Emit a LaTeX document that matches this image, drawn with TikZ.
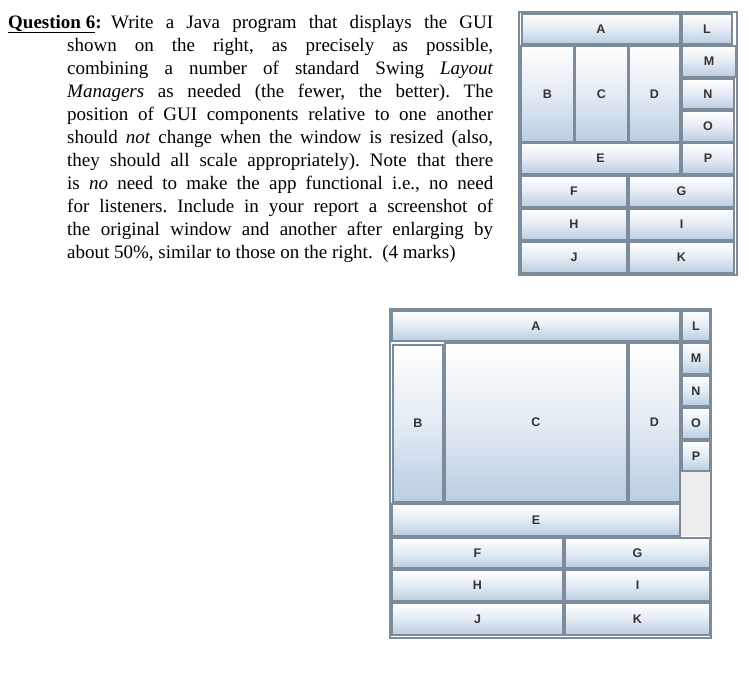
\documentclass[tikz,border=0pt]{standalone}
\usepackage{fontspec}
\setmainfont{Liberation Serif}
\newfontfamily\guifont{Liberation Sans}
\frenchspacing
\definecolor{bord}{HTML}{7D8C9A}
\definecolor{btnbot}{HTML}{B9CDE2}
\definecolor{lab}{HTML}{333333}
\tikzset{
 btn/.style={draw=bord, line width=1.2pt, inner sep=0pt, top color=white, bottom color=btnbot, middle color=white!60!btnbot, font=\guifont\bfseries\fontsize{12.5}{12.5}\selectfont, text=lab},
 ln/.style={anchor=base west, inner sep=0pt, font=\fontsize{19}{19}\selectfont}
}
\newcommand\btn[6]{\node[btn, minimum width=#4pt-#2pt, minimum height=#5pt-#3pt] (#1) at ({(#2+#4)/2},{(#3+#5)/2}) {#6};}
\begin{document}
\begin{tikzpicture}[x=1pt,y=-1pt]
\useasboundingbox (0,0) rectangle (749,681);
\fill[white] (0,0) rectangle (749,681);
% text
\node[ln] (t1) at (8,28) {\makebox[485pt][s]{\textbf{\underline{Question 6}:}\hspace{0.5em}Write a Java program that displays the GUI}};
\node[ln] (t2) at (67,51) {\makebox[426pt][s]{shown on the right, as precisely as possible,}};
\node[ln] (t3) at (67,74) {\makebox[426pt][s]{combining a number of standard Swing \textit{Layout}}};
\node[ln] (t4) at (67,97) {\makebox[426pt][s]{\textit{Managers} as needed (the fewer, the better). The}};
\node[ln] (t5) at (67,120) {\makebox[426pt][s]{position of GUI components relative to one another}};
\node[ln] (t6) at (67,143) {\makebox[426pt][s]{should \textit{not} change when the window is resized (also,}};
\node[ln] (t7) at (67,166) {\makebox[426pt][s]{they should all scale appropriately). Note that there}};
\node[ln] (t8) at (67,189) {\makebox[426pt][s]{is \textit{no} need to make the app functional i.e., no need}};
\node[ln] (t9) at (67,212) {\makebox[426pt][s]{for listeners. Include in your report a screenshot of}};
\node[ln] (t10) at (67,235) {\makebox[426pt][s]{the original window and another after enlarging by}};
\node[ln] (t11) at (67,258) {about 50\%, similar to those on the right.\ \ (4 marks)};
% small GUI
\draw[bord, line width=1.5pt, fill=white] (519,12) rectangle (737,275);
\btn{sA}{522}{14}{680}{44}{A}
\btn{sL}{682}{14}{732}{44}{L}
\btn{sB}{521}{46}{574}{142}{B}
\btn{sC}{575}{46}{628}{142}{C}
\btn{sD}{629}{46}{680}{142}{D}
\btn{sM}{682}{46}{736}{77}{M}
\btn{sN}{682}{79}{734}{109}{N}
\btn{sO}{682}{111}{734}{142}{O}
\btn{sE}{521}{143}{680}{174}{E}
\btn{sP}{682}{143}{734}{174}{P}
\btn{sF}{521}{176}{627}{207}{F}
\btn{sG}{629}{176}{734}{207}{G}
\btn{sH}{521}{209}{627}{240}{H}
\btn{sI}{629}{209}{734}{240}{I}
\btn{sJ}{521}{242}{627}{273}{J}
\btn{sK}{629}{242}{734}{273}{K}
% large GUI
\draw[bord, line width=1.5pt, fill=white] (390,309) rectangle (711,638);
\fill[black!7] (681,472) rectangle (710,536);
\btn{lA}{392}{311}{680}{341}{A}
\btn{lL}{682}{311}{710}{341}{L}
\btn{lB}{393}{345}{443}{502}{B}
\btn{lC}{445}{343}{627}{502}{C}
\btn{lD}{629}{343}{680}{502}{D}
\btn{lM}{682}{343}{710}{374}{M}
\btn{lN}{682}{376}{710}{406}{N}
\btn{lO}{682}{408}{710}{439}{O}
\btn{lP}{682}{441}{710}{471}{P}
\btn{lE}{392}{504}{680}{536}{E}
\btn{lF}{392}{538}{563}{568}{F}
\btn{lG}{565}{538}{710}{568}{G}
\btn{lH}{392}{570}{563}{601}{H}
\btn{lI}{565}{570}{710}{601}{I}
\btn{lJ}{392}{603}{563}{635}{J}
\btn{lK}{565}{603}{710}{635}{K}
\end{tikzpicture}
\end{document}
